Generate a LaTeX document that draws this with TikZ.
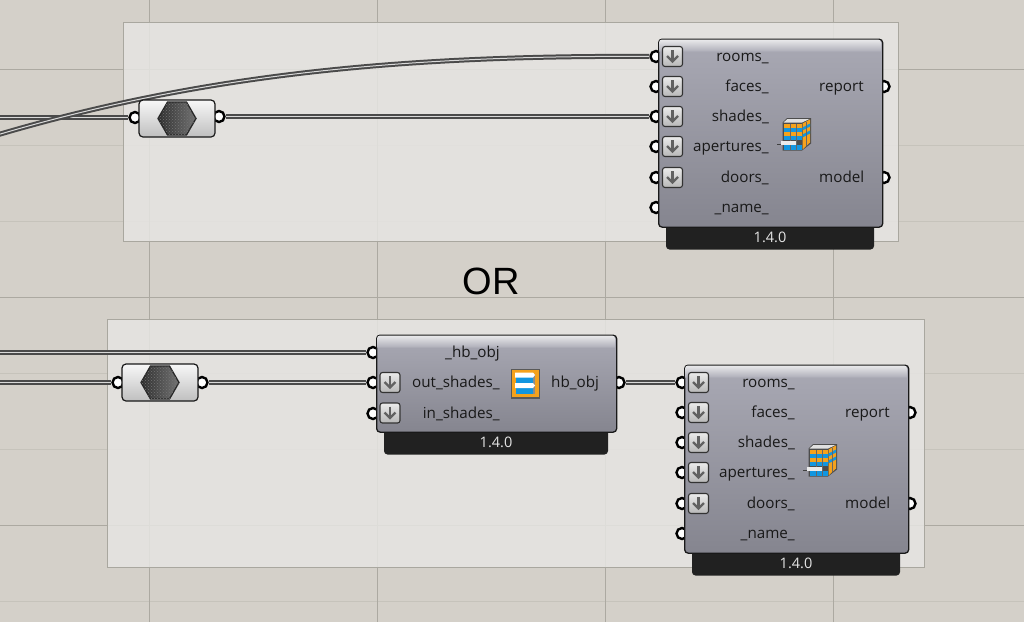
\documentclass[tikz,border=0pt]{standalone}
\usepackage{fontspec}
\setmainfont{Open Sans}
\newfontfamily\headfont{Liberation Sans}
\usetikzlibrary{shapes.geometric}
\usetikzlibrary{patterns}

\definecolor{canvas}{HTML}{D4D0C9}
\definecolor{gridmajor}{HTML}{ACA9A1}
\definecolor{gridminor}{HTML}{C6C3BB}
\definecolor{groupfill}{HTML}{E6E5E2}
\definecolor{groupline}{HTML}{A9A79F}
\definecolor{wirecol}{HTML}{4A4A4A}
\definecolor{bodytop}{HTML}{A9A9B4}
\definecolor{bodybottom}{HTML}{85858F}
\definecolor{headertop}{HTML}{E9E9EB}
\definecolor{headerbottom}{HTML}{ADADB8}
\definecolor{iconorange}{HTML}{F5A21C}
\definecolor{iconblue}{HTML}{1296E0}

\tikzset{group/.style = {draw=groupline, line width=1, fill=groupfill, fill opacity=0.85}}
\tikzset{port/.style = {draw=black, fill=white, circle, line width=2.4, inner sep=0, minimum size=11}}
\tikzset{wire/.style = {draw=wirecol, line width=2, double=white!85!black, double distance=1}}
\tikzset{comp/.style = {draw=black!90, line width=1.3, rounded corners=3.5, inner sep=0,
                        anchor=north west, top color=bodytop, bottom color=bodybottom}}
\tikzset{header/.style = {top color=headertop, bottom color=headerbottom}}
\tikzset{footer/.style = {fill=black!87, rounded corners=3.5}}
\tikzset{version/.style = {text=white!90!black, font=\fontsize{14.5}{15}\selectfont, inner sep=0}}
\tikzset{inlabel/.style = {text=black!90, font=\fontsize{15.2}{16}\selectfont, inner sep=0, anchor=base east}}
\tikzset{outlabel/.style = {text=black!90, font=\fontsize{15.2}{16}\selectfont, inner sep=0, anchor=base west}}
\tikzset{btn/.style = {draw=black!80, line width=1.1, rounded corners=2.5, inner sep=0, minimum size=20,
                       top color=white!92!black, bottom color=black!28}}
\tikzset{btnarrow/.style = {draw=black!62, line width=2.3}}
\tikzset{param/.style = {draw=black!90, line width=1.2, rounded corners=4, inner sep=0, minimum width=76,
                         minimum height=37, top color=white!97!black, bottom color=black!25}}
\tikzset{hexa/.style = {draw=black!85, line width=1.3, regular polygon, regular polygon sides=6, inner sep=0,
                        minimum size=38, left color=black!82, right color=black!55,
                        postaction={pattern=crosshatch dots, pattern color=black!55}}}

% input button with its arrow
\newcommand{\inbutton}[3]{
  \node [btn] (#1) at (#2, #3) {};
  \draw [btnarrow] (#2, #3-6.5) -- (#2, #3+5);
  \draw [btnarrow] (#2-5.5, #3-0.5) -- (#2, #3+5) -- (#2+5.5, #3-0.5);
}

% the building icon, around its centre
\newcommand{\buildingicon}{
  \fill [black!70] (-11.5, -11) -- (-7, -15.5) -- (17, -15.5) -- (17, 10) -- (8, 17) -- (-11.5, 17) -- cycle;
  \fill [black!12] (-10.5, -11) -- (-6.5, -14.5) -- (15.5, -14.5) -- (8, -11) -- cycle;
  \foreach \y in {-10,-2} {
    \fill [iconorange] (-10.5, \y) rectangle (8, \y+4);
    \fill [iconblue] (-10.5, \y+4) rectangle (8, \y+8);
  }
  \fill [iconblue] (-10.5, 11) rectangle (8, 16);
  \fill [iconorange] (8.5, -10) -- (16, -14) -- (16, 9) -- (8.5, 16) -- cycle;
  \fill [iconblue] (8.5, -6) -- (16, -10) -- (16, -7) -- (8.5, -3) -- cycle;
  \fill [iconblue] (8.5, 1) -- (16, -3) -- (16, 0) -- (8.5, 4) -- cycle;
  \foreach \x in {-4,2} {
    \draw [black!60, line width=0.6] (\x, -10) -- (\x, 16);
  }
  \draw [black!60, line width=0.6] (12, -12) -- (12, 12);
  \fill [black!75] (-17, 10) rectangle (-12, 11);
  \fill [white!92!black] (-13, 7) rectangle (2, 11);
}

% the room model component, from its top left corner
\newcommand{\modelcomp}[3]{
  \begin{scope}[shift={(#2, #3)}]
    \foreach \p/\y in {rooms/18,faces/48,shades/78,apertures/108,doors/139,name/169} {
      \node [port] (#1\p) at (-2, \y) {};
    }
    \node [port] (#1report) at (226, 48) {};
    \node [port] (#1model) at (226, 139) {};
    \fill [footer] (8, 180) rectangle (216, 211);
    \node [comp, minimum width=224, minimum height=188] (#1body) at (0, 0) {};
    \path [header] (1, 13) [rounded corners=3] -- (1, 1) -- (223, 1) [sharp corners] -- (223, 13) -- cycle;
    \foreach \p/\t/\y in {rooms/rooms\_/18,faces/faces\_/48,shades/shades\_/78,apertures/apertures\_/108,doors/doors\_/139,name/\_name\_/169} {
      \node [inlabel] (#1\p label) at (111, \y+5) {\t};
    }
    \node [outlabel] (#1report label) at (161, 53) {report};
    \node [outlabel] (#1model label) at (161, 144) {model};
    \foreach \p/\y in {rooms/18,faces/48,shades/78,apertures/108,doors/139} {
      \inbutton{#1\p btn}{14.5}{\y}
    }
    \begin{scope}[shift={(136, 95)}]
      \buildingicon
    \end{scope}
    \node [version] (#1version) at (112, 199) {1.4.0};
  \end{scope}
}

\begin{document}
\begin{tikzpicture}[x=1pt, y=-1pt]
  \useasboundingbox (0, 0) rectangle (1024, 622);
  \fill [canvas] (0, 0) rectangle (1024, 622);

  % canvas grid
  \foreach \y in {145,221,373,449,601} {
    \draw [gridminor, line width=1] (0, \y) -- (1024, \y);
  }
  \foreach \y in {69,297,525} {
    \draw [gridmajor, line width=1] (0, \y) -- (1024, \y);
  }
  \foreach \x in {149,377,605,833} {
    \draw [gridmajor, line width=1] (\x, 0) -- (\x, 622);
  }

  \draw [group] (123.5, 22.5) rectangle (898, 241);
  \draw [group] (107, 319) rectangle (924, 567.5);

  \coordinate (wirea) at (-3, 117.5);
  \coordinate (wireb) at (-3, 135);
  \coordinate (wirec) at (-3, 352.5);
  \coordinate (wired) at (-3, 382.5);

  \node [port] (parama in) at (135, 117.5) {};
  \node [port] (parama out) at (219, 116.5) {};
  \node [port] (paramb in) at (118, 382.5) {};
  \node [port] (paramb out) at (202, 382.5) {};

  \modelcomp{upper}{658}{38.5}
  \modelcomp{lower}{684}{364.5}

  % shade component
  \begin{scope}[shift={(376, 334.5)}]
    \node [port] (hbin) at (-3, 18) {};
    \node [port] (outin) at (-3, 48) {};
    \node [port] (inin) at (-3, 79) {};
    \node [port] (hbout) at (243, 48) {};
    \fill [footer] (8, 90) rectangle (232, 120);
    \node [comp, minimum width=240, minimum height=97] (shadebody) at (0, 0) {};
    \path [header] (1, 13) [rounded corners=3] -- (1, 1) -- (239, 1) [sharp corners] -- (239, 13) -- cycle;
    \node [inlabel] (hblabel) at (124, 23) {\_hb\_obj};
    \node [inlabel] (outlabel) at (124, 53) {out\_shades\_};
    \node [inlabel] (inlabel) at (124, 84) {in\_shades\_};
    \node [outlabel] (hboutlabel) at (175, 53) {hb\_obj};
    \inbutton{outbtn}{14}{48}
    \inbutton{inbtn}{14}{78.5}
    \fill [black!65] (134.5, 34) rectangle (164, 64);
    \fill [iconorange] (136, 35.5) rectangle (162.5, 62.5);
    \fill [black!45] (139.5, 39) rectangle (158.5, 59);
    \foreach \y in {38,48.5} {
      \fill [iconblue] (140, \y+4) rectangle (157, \y+10.5);
      \fill [white] (139, \y) -- (157, \y) -- (159, \y+2.5) -- (157, \y+5) -- (139, \y+5) -- cycle;
    }
    \node [version] (shadeversion) at (120, 108) {1.4.0};
  \end{scope}

  \draw [wire] (wirea) -- (parama in);
  \draw [wire] (wireb) .. controls (200, 75) and (400, 55) .. (upperrooms);
  \draw [wire] (parama out) -- (uppershades);
  \draw [wire] (wirec) -- (hbin);
  \draw [wire] (wired) -- (paramb in);
  \draw [wire] (paramb out) -- (outin);
  \draw [wire] (hbout) -- (lowerrooms);

  \foreach \n/\x/\y in {parama/177/118.5,paramb/160/382.5} {
    \node [param] (\n box) at (\x, \y) {};
    \node [hexa] (\n hex) at (\x, \y) {};
  }

  \node [font=\headfont\fontsize{38}{40}\selectfont, inner sep=0] (ortext) at (491, 281) {OR};
\end{tikzpicture}
\end{document}
